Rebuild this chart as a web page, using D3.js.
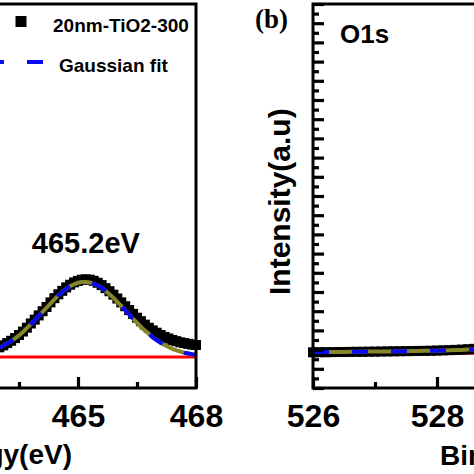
<!DOCTYPE html>
<html>
<head>
<meta charset="utf-8">
<script src="https://cdn.jsdelivr.net/npm/d3@7"></script>
<style>
  html, body { margin: 0; padding: 0; background: #fff; }
  svg { display: block; }
  text { font-family: "Liberation Sans", Arial, sans-serif; font-weight: bold; fill: #000; }
</style>
</head>
<body>
<div id="chart"></div>
<script>
// Ti 2p panel (a), only its right part is in view
const tiEnergy = [463.0, 463.1, 463.2, 463.3, 463.4, 463.5, 463.6, 463.7, 463.8, 463.9,
                  464.0, 464.1, 464.2, 464.3, 464.4, 464.5, 464.6, 464.7, 464.8, 464.9,
                  465.0, 465.1, 465.2, 465.3, 465.4, 465.5, 465.6, 465.7, 465.8, 465.9,
                  466.0, 466.1, 466.2, 466.3, 466.4, 466.5, 466.6, 466.7, 466.8, 466.9,
                  467.0, 467.1, 467.2, 467.3, 467.4, 467.5, 467.6, 467.7, 467.8, 467.9, 468.0];
const tiCounts = [10.6, 11.1, 11.7, 12.3, 13.0, 13.8, 14.7, 15.7, 16.8, 17.8,
                  18.9, 20.0, 21.1, 22.3, 23.4, 24.4, 25.3, 26.2, 26.9, 27.5,
                  27.9, 28.2, 28.3, 28.2, 27.9, 27.4, 26.8, 26.0, 25.2, 24.3,
                  23.3, 22.3, 21.3, 20.3, 19.3, 18.3, 17.4, 16.5, 15.7, 15.0,
                  14.4, 13.8, 13.3, 12.9, 12.5, 12.2, 11.9, 11.7, 11.5, 11.3, 11.2];
const tiFit = [10.5, 11.0, 11.6, 12.2, 12.9, 13.7, 14.6, 15.6, 16.6, 17.6,
               18.7, 19.8, 20.9, 22.0, 23.1, 24.1, 25.0, 25.8, 26.5, 27.0,
               27.4, 27.6, 27.6, 27.5, 27.1, 26.7, 26.1, 25.3, 24.4, 23.5,
               22.4, 21.4, 20.3, 19.2, 18.0, 17.0, 15.9, 15.0, 14.1, 13.2,
               12.5, 11.8, 11.2, 10.7, 10.2, 9.8, 9.5, 9.2, 9.0, 8.8, 8.7];
const tiBaseE = [462.0, 468.0];
const tiBase = [8.1, 8.1];
const tiTicks = [465, 468];
const tiMinor = [463.5, 466.5];

// O 1s panel (b), only its left part is in view
const oEnergy = [526.0, 526.1, 526.2, 526.3, 526.4, 526.5, 526.6, 526.7, 526.8, 526.9,
                 527.0, 527.1, 527.2, 527.3, 527.4, 527.5, 527.6, 527.7, 527.8, 527.9,
                 528.0, 528.1, 528.2, 528.3, 528.4, 528.5, 528.6, 528.7, 528.8];
const oCounts = [3.72, 3.73, 3.73, 3.74, 3.75, 3.75, 3.76, 3.77, 3.77, 3.78,
                 3.79, 3.80, 3.81, 3.82, 3.83, 3.84, 3.85, 3.86, 3.87, 3.88,
                 3.90, 3.92, 3.94, 3.97, 4.00, 4.04, 4.08, 4.13, 4.19];
const oFit = [3.74, 3.74, 3.75, 3.75, 3.76, 3.76, 3.77, 3.77, 3.78, 3.79,
              3.80, 3.80, 3.81, 3.82, 3.83, 3.84, 3.85, 3.86, 3.87, 3.88,
              3.89, 3.91, 3.93, 3.95, 3.97, 4.00, 4.03, 4.07, 4.11];
const oBaseE = [526.0, 528.8];
const oBase = [3.43, 3.64];
const oTicks = [526, 528];
const oMinor = [527, 529];
const oYMajor = [0, 2, 4, 6, 8, 10, 12, 14, 16, 18, 20, 22, 24, 26, 28, 30, 32, 34, 36, 38, 40];
const oYMinor = [1, 3, 5, 7, 9, 11, 13, 15, 17, 19, 21, 23, 25, 27, 29, 31, 33, 35, 37, 39];

const W = 474, H = 474;
const yTop = 4, yBottom = 388;
const olive = "#85852a", blue = "#0a0af5", red = "#ff0000";
const sq = 10;

const svg = d3.select("#chart").append("svg")
    .attr("width", W)
    .attr("height", H);

function drawSeries(g, x, y, E, counts, fit, baseE, base) {
    const line = d3.line().x(d => x(d[0])).y(d => y(d[1]));
    g.append("path")
        .datum(d3.zip(baseE, base))
        .attr("d", line)
        .attr("fill", "none").attr("stroke", red).attr("stroke-width", 3);
    g.selectAll("rect.pt")
        .data(d3.zip(E, counts))
        .enter().append("rect")
        .attr("class", "pt")
        .attr("x", d => x(d[0]) - sq / 2)
        .attr("y", d => y(d[1]) - sq / 2)
        .attr("width", sq).attr("height", sq)
        .attr("fill", "#000");
    g.append("path")
        .datum(d3.zip(E, fit))
        .attr("d", line)
        .attr("fill", "none").attr("stroke", olive).attr("stroke-width", 4);
    g.append("path")
        .datum(d3.zip(E, fit))
        .attr("d", line)
        .attr("fill", "none").attr("stroke", blue).attr("stroke-width", 4)
        .attr("stroke-dasharray", "16,23");
}

function styleAxis(sel) {
    sel.select(".domain").remove();
    sel.selectAll(".tick line").attr("stroke", "#000").attr("stroke-width", 3.2);
    sel.selectAll(".tick text")
        .style("font-size", "32px")
        .attr("dy", 0);
}

// ---------- panel (a) ----------
const xA = d3.scaleLinear().domain([462, 468]).range([-40, 196]);
const yA = d3.scaleLinear().domain([0, 100]).range([yBottom, yTop]);
const gA = svg.append("g");

drawSeries(gA, xA, yA, tiEnergy, tiCounts, tiFit, tiBaseE, tiBase);

gA.append("g")
    .attr("transform", `translate(0,${yBottom})`)
    .call(d3.axisBottom(xA).tickValues(tiTicks).tickSize(-11).tickPadding(0).tickFormat(d3.format("d")))
    .call(styleAxis)
    .selectAll(".tick text").attr("y", 39);
gA.append("g")
    .attr("transform", `translate(0,${yBottom})`)
    .call(d3.axisBottom(xA).tickValues(tiMinor).tickSize(-6).tickFormat(""))
    .call(styleAxis);

gA.append("path")
    .attr("d", `M-60,${yTop}H196V${yBottom}H-60`)
    .attr("fill", "none").attr("stroke", "#000").attr("stroke-width", 3)
    .attr("stroke-linecap", "square");

// legend
gA.append("rect").attr("x", 15.5).attr("y", 16).attr("width", 11).attr("height", 11).attr("fill", "#000");
gA.append("text").attr("x", 53).attr("y", 32).style("font-size", "19px").text("20nm-TiO2-300");
gA.append("line").attr("x1", -12).attr("x2", 43).attr("y1", 62).attr("y2", 62)
    .attr("stroke", blue).attr("stroke-width", 4).attr("stroke-dasharray", "16,23");
gA.append("text").attr("x", 59).attr("y", 72).style("font-size", "19px").text("Gaussian fit");

gA.append("text").attr("x", xA(465.2)).attr("y", 253)
    .attr("text-anchor", "middle").style("font-size", "29px").text("465.2eV");

gA.append("text").attr("x", 72).attr("y", 464)
    .attr("text-anchor", "end").style("font-size", "28px").text("Binding Energy(eV)");

// ---------- panel (b) ----------
const xB = d3.scaleLinear().domain([526, 532]).range([313, 685]);
const yB = d3.scaleLinear().domain([0, 40]).range([yBottom, yTop]);
const gB = svg.append("g");

drawSeries(gB, xB, yB, oEnergy, oCounts, oFit, oBaseE, oBase);

gB.append("g")
    .attr("transform", `translate(0,${yBottom})`)
    .call(d3.axisBottom(xB).tickValues(oTicks).tickSize(-11).tickPadding(0).tickFormat(d3.format("d")))
    .call(styleAxis)
    .selectAll(".tick text").attr("y", 39);
gB.append("g")
    .attr("transform", `translate(0,${yBottom})`)
    .call(d3.axisBottom(xB).tickValues(oMinor).tickSize(-6).tickFormat(""))
    .call(styleAxis);
gB.append("g")
    .attr("transform", `translate(313,0)`)
    .call(d3.axisLeft(yB).tickValues(oYMajor).tickSize(-11).tickFormat(""))
    .call(styleAxis);
gB.append("g")
    .attr("transform", `translate(313,0)`)
    .call(d3.axisLeft(yB).tickValues(oYMinor).tickSize(-6).tickFormat(""))
    .call(styleAxis);

gB.append("path")
    .attr("d", `M700,${yTop}H313V${yBottom}H700`)
    .attr("fill", "none").attr("stroke", "#000").attr("stroke-width", 3)
    .attr("stroke-linecap", "square");

gB.append("text").attr("x", 255).attr("y", 28)
    .style("font-family", "'Liberation Serif', 'Times New Roman', serif")
    .style("font-size", "27px").text("(b)");
gB.append("text").attr("x", 340).attr("y", 43).style("font-size", "26px").text("O1s");

gB.append("text")
    .attr("transform", "translate(290,295) rotate(-90)")
    .style("font-size", "30px").text("Intensity(a.u)");

gB.append("text").attr("x", 440).attr("y", 465).style("font-size", "28px").text("Binding Energy(eV)");
</script>
</body>
</html>
